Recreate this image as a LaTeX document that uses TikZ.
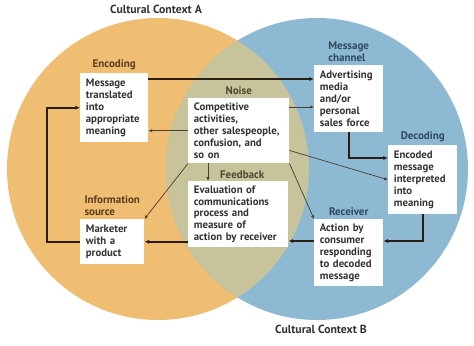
\documentclass[tikz,border=0pt]{standalone}
\usepackage{fontspec}
\setmainfont{PT Sans}
\usetikzlibrary{arrows.meta,positioning,calc}
\definecolor{ctxA}{HTML}{F0BE72}
\definecolor{ctxB}{HTML}{8DB9D3}
\definecolor{lens}{HTML}{C7C49C}
\definecolor{lnk}{HTML}{2A1E14}
\definecolor{thinlnk}{HTML}{4B3E2E}
\definecolor{txt}{HTML}{333333}
\definecolor{lblA}{HTML}{5A3D1C}
\definecolor{lblN}{HTML}{4C4832}
\definecolor{lblB}{HTML}{2E4A5F}
\tikzset{
  msgbox/.style={fill=white,anchor=north west,align=left,inner xsep=0.17cm,inner ysep=0.06cm,
    text=txt,font=\fontsize{9.2}{10.2}\selectfont\bfseries},
  stagelbl/.style={inner sep=1pt,align=left,font=\fontsize{9.4}{10.2}\selectfont\bfseries},
  ctxlbl/.style={text=txt,font=\fontsize{10}{11}\selectfont\bfseries},
  thk/.style={-{Latex[length=4pt,width=3.6pt]},line width=1.6pt,draw=lnk},
  thn/.style={-{Latex[length=3.2pt,width=2.8pt]},line width=0.6pt,draw=thinlnk}
}
\begin{document}
\begin{tikzpicture}[x=0.03cm,y=-0.03cm]
  \useasboundingbox[fill=white] (0,0) rectangle (474,346);
  % cultural contexts
  \fill[ctxA] (158,169) circle[radius=4.53cm];
  \fill[ctxB] (317,169) circle[radius=4.53cm];
  \begin{scope}
    \clip (158,169) circle[radius=4.53cm];
    \fill[lens] (317,169) circle[radius=4.53cm];
  \end{scope}
  \node[ctxlbl] (ctxa) at (156,9) {Cultural Context A};
  \node[ctxlbl] (ctxb) at (321,329) {Cultural Context B};

  % stages
  \node[msgbox,text width=1.70cm,minimum height=2.07cm] (enc) at (80,73)
    {Message\\translated\\into\\appropriate\\meaning};
  \node[msgbox,text width=2.69cm,minimum height=1.95cm] (noise) at (188,98)
    {Competitive\\activities,\\other salespeople,\\confusion, and\\so on};
  \node[msgbox,text width=2.66cm,minimum height=1.98cm] (fb) at (188,181)
    {Evaluation of\\communications\\process and\\measure of\\action by receiver};
  \node[msgbox,text width=1.73cm,minimum height=2.01cm] (chan) at (314,65)
    {Advertising\\media\\and/or\\personal\\sales force};
  \node[msgbox,text width=1.73cm,minimum height=2.07cm] (dec) at (388,145)
    {Encoded\\message\\interpreted\\into\\meaning};
  \node[msgbox,text width=1.73cm,minimum height=2.01cm] (recv) at (314,219)
    {Action by\\consumer\\responding\\to decoded\\message};
  \node[msgbox,text width=1.58cm,minimum height=1.35cm] (src) at (80,219)
    {Marketer\\with a\\product};

  \node[stagelbl,text=lblA,above=0.05cm of enc] (encl) {Encoding};
  \node[stagelbl,text=lblN,above=0.05cm of noise] (noisel) {Noise};
  \node[stagelbl,text=lblN,above=0.03cm of fb,xshift=0.12cm] (fbl) {Feedback};
  \node[stagelbl,text=lblB,above=0.05cm of chan] (chanl) {Message\\channel};
  \node[stagelbl,text=lblB,above=0.05cm of dec] (decl) {Decoding};
  \node[stagelbl,text=lblB,above=0.05cm of recv] (recvl) {Receiver};
  \node[stagelbl,text=lblA,above=0.05cm of src] (srcl) {Information\\source};

  % message flow
  \coordinate (e1) at ([yshift=-0.18cm]enc.north east);
  \draw[thk] (e1) -- (e1 -| chan.west);
  \draw[thk] (chan.south) |- ([yshift=-0.39cm]dec.north west);
  \draw[thk] (dec.south) |- ([yshift=-0.66cm]recv.north east);
  \coordinate (r1) at ([yshift=-0.66cm]recv.north west);
  \draw[thk] (r1) -- (r1 -| fb.east);
  \draw[thk] (src.east -| fb.west) -- (src.east);
  \draw[thk] (src.west) -- ++(-33,0) |- (enc.west);

  % noise
  \coordinate (n1) at ([yshift=-0.27cm]noise.north east);
  \draw[thn] (n1) -- (n1 -| chan.west);
  \draw[thn] (noise.west) -- (noise.west -| enc.east);
  \draw[thn] ([yshift=0.39cm]noise.south east) -- (dec.west);
  \draw[thn] (noise.south west) -- (src.north east);
  \draw[thn] (noise.south east) -- (recv.north west);
  \draw[thn] ([xshift=0.6cm]noise.south west) -- ([xshift=0.6cm]fb.north west);
\end{tikzpicture}
\end{document}
